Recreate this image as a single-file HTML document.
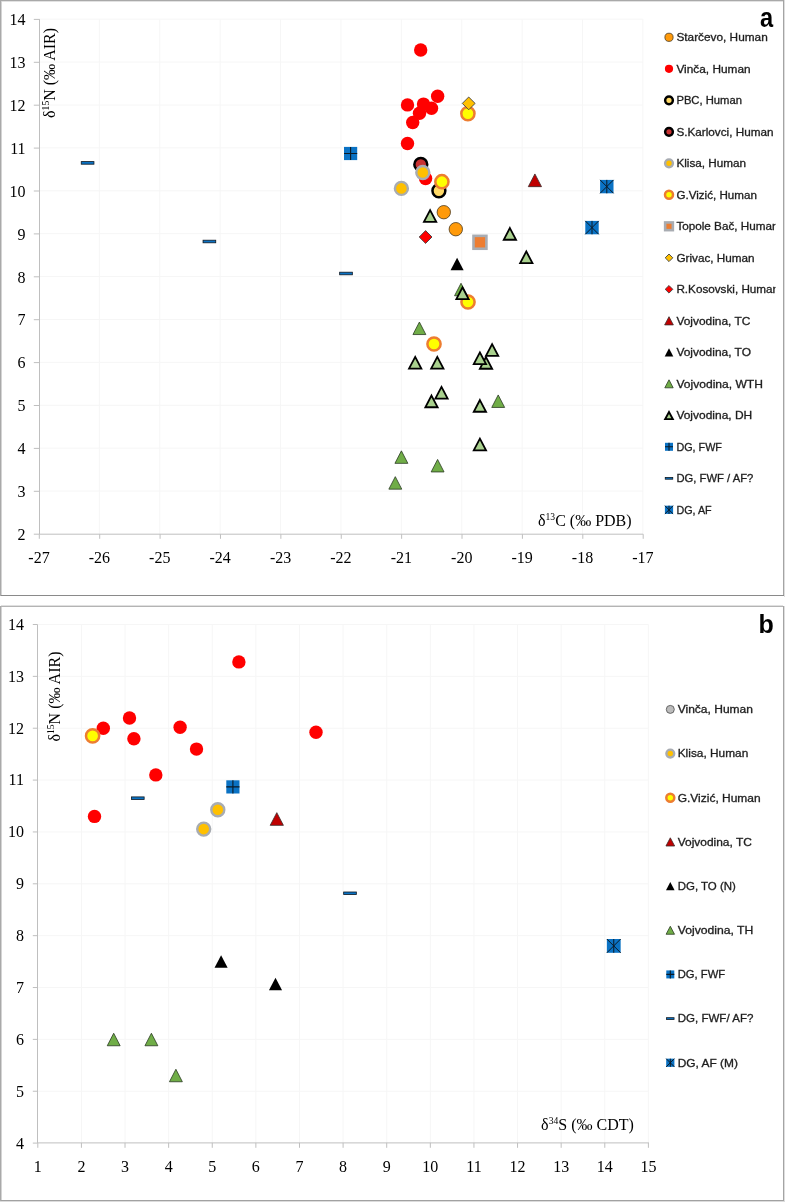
<!DOCTYPE html>
<html><head><meta charset="utf-8"><title>Isotope plots</title><style>html,body{margin:0;padding:0;background:#fff;}svg{display:block;will-change:transform;}</style></head><body>
<svg width="785" height="1202" viewBox="0 0 785 1202">
<rect width="785" height="1202" fill="#fff"/>
<rect x="0" y="0" width="784" height="1" fill="#a9a9a9"/><rect x="1" y="1" width="782" height="1" fill="#e2e2e2"/><rect x="0" y="0" width="1" height="596" fill="#a9a9a9"/><rect x="1" y="1" width="1" height="594" fill="#d4d4d4"/><rect x="783" y="0" width="1" height="596" fill="#a4a4a4"/><rect x="784" y="0" width="1" height="597" fill="#dedede"/><rect x="1" y="595" width="783" height="1" fill="#8a8a8a"/>
<line x1="99.39" y1="19.2" x2="99.39" y2="534.0" stroke="#f6f6f6" stroke-width="1"/>
<line x1="159.78" y1="19.2" x2="159.78" y2="534.0" stroke="#f6f6f6" stroke-width="1"/>
<line x1="220.17" y1="19.2" x2="220.17" y2="534.0" stroke="#f6f6f6" stroke-width="1"/>
<line x1="280.56" y1="19.2" x2="280.56" y2="534.0" stroke="#f6f6f6" stroke-width="1"/>
<line x1="340.95" y1="19.2" x2="340.95" y2="534.0" stroke="#f6f6f6" stroke-width="1"/>
<line x1="401.34" y1="19.2" x2="401.34" y2="534.0" stroke="#f6f6f6" stroke-width="1"/>
<line x1="461.73" y1="19.2" x2="461.73" y2="534.0" stroke="#f6f6f6" stroke-width="1"/>
<line x1="522.12" y1="19.2" x2="522.12" y2="534.0" stroke="#f6f6f6" stroke-width="1"/>
<line x1="582.51" y1="19.2" x2="582.51" y2="534.0" stroke="#f6f6f6" stroke-width="1"/>
<line x1="642.90" y1="19.2" x2="642.90" y2="534.0" stroke="#f6f6f6" stroke-width="1"/>
<line x1="39.0" y1="491.10" x2="642.9" y2="491.10" stroke="#f6f6f6" stroke-width="1"/>
<line x1="39.0" y1="448.20" x2="642.9" y2="448.20" stroke="#f6f6f6" stroke-width="1"/>
<line x1="39.0" y1="405.30" x2="642.9" y2="405.30" stroke="#f6f6f6" stroke-width="1"/>
<line x1="39.0" y1="362.40" x2="642.9" y2="362.40" stroke="#f6f6f6" stroke-width="1"/>
<line x1="39.0" y1="319.50" x2="642.9" y2="319.50" stroke="#f6f6f6" stroke-width="1"/>
<line x1="39.0" y1="276.60" x2="642.9" y2="276.60" stroke="#f6f6f6" stroke-width="1"/>
<line x1="39.0" y1="233.70" x2="642.9" y2="233.70" stroke="#f6f6f6" stroke-width="1"/>
<line x1="39.0" y1="190.80" x2="642.9" y2="190.80" stroke="#f6f6f6" stroke-width="1"/>
<line x1="39.0" y1="147.90" x2="642.9" y2="147.90" stroke="#f6f6f6" stroke-width="1"/>
<line x1="39.0" y1="105.00" x2="642.9" y2="105.00" stroke="#f6f6f6" stroke-width="1"/>
<line x1="39.0" y1="62.10" x2="642.9" y2="62.10" stroke="#f6f6f6" stroke-width="1"/>
<line x1="39.0" y1="19.20" x2="642.9" y2="19.20" stroke="#f6f6f6" stroke-width="1"/>
<path d="M39.5,19.2V534.2H643.2" fill="none" stroke="#bfbfbf" stroke-width="1"/>
<line x1="33.8" y1="534.20" x2="39.5" y2="534.20" stroke="#bfbfbf" stroke-width="1"/>
<line x1="33.8" y1="491.30" x2="39.5" y2="491.30" stroke="#bfbfbf" stroke-width="1"/>
<line x1="33.8" y1="448.40" x2="39.5" y2="448.40" stroke="#bfbfbf" stroke-width="1"/>
<line x1="33.8" y1="405.50" x2="39.5" y2="405.50" stroke="#bfbfbf" stroke-width="1"/>
<line x1="33.8" y1="362.60" x2="39.5" y2="362.60" stroke="#bfbfbf" stroke-width="1"/>
<line x1="33.8" y1="319.70" x2="39.5" y2="319.70" stroke="#bfbfbf" stroke-width="1"/>
<line x1="33.8" y1="276.80" x2="39.5" y2="276.80" stroke="#bfbfbf" stroke-width="1"/>
<line x1="33.8" y1="233.90" x2="39.5" y2="233.90" stroke="#bfbfbf" stroke-width="1"/>
<line x1="33.8" y1="191.00" x2="39.5" y2="191.00" stroke="#bfbfbf" stroke-width="1"/>
<line x1="33.8" y1="148.10" x2="39.5" y2="148.10" stroke="#bfbfbf" stroke-width="1"/>
<line x1="33.8" y1="105.20" x2="39.5" y2="105.20" stroke="#bfbfbf" stroke-width="1"/>
<line x1="33.8" y1="62.30" x2="39.5" y2="62.30" stroke="#bfbfbf" stroke-width="1"/>
<line x1="33.8" y1="19.40" x2="39.5" y2="19.40" stroke="#bfbfbf" stroke-width="1"/>
<line x1="39.30" y1="534.2" x2="39.30" y2="538.8" stroke="#bfbfbf" stroke-width="1"/>
<line x1="99.69" y1="534.2" x2="99.69" y2="538.8" stroke="#bfbfbf" stroke-width="1"/>
<line x1="160.08" y1="534.2" x2="160.08" y2="538.8" stroke="#bfbfbf" stroke-width="1"/>
<line x1="220.47" y1="534.2" x2="220.47" y2="538.8" stroke="#bfbfbf" stroke-width="1"/>
<line x1="280.86" y1="534.2" x2="280.86" y2="538.8" stroke="#bfbfbf" stroke-width="1"/>
<line x1="341.25" y1="534.2" x2="341.25" y2="538.8" stroke="#bfbfbf" stroke-width="1"/>
<line x1="401.64" y1="534.2" x2="401.64" y2="538.8" stroke="#bfbfbf" stroke-width="1"/>
<line x1="462.03" y1="534.2" x2="462.03" y2="538.8" stroke="#bfbfbf" stroke-width="1"/>
<line x1="522.42" y1="534.2" x2="522.42" y2="538.8" stroke="#bfbfbf" stroke-width="1"/>
<line x1="582.81" y1="534.2" x2="582.81" y2="538.8" stroke="#bfbfbf" stroke-width="1"/>
<line x1="643.20" y1="534.2" x2="643.20" y2="538.8" stroke="#bfbfbf" stroke-width="1"/>
<text x="25.60" y="539.90" font-family="'Liberation Serif', serif" font-size="16" text-anchor="end" fill="#000" >2</text>
<text x="25.60" y="497.00" font-family="'Liberation Serif', serif" font-size="16" text-anchor="end" fill="#000" >3</text>
<text x="25.60" y="454.10" font-family="'Liberation Serif', serif" font-size="16" text-anchor="end" fill="#000" >4</text>
<text x="25.60" y="411.20" font-family="'Liberation Serif', serif" font-size="16" text-anchor="end" fill="#000" >5</text>
<text x="25.60" y="368.30" font-family="'Liberation Serif', serif" font-size="16" text-anchor="end" fill="#000" >6</text>
<text x="25.60" y="325.40" font-family="'Liberation Serif', serif" font-size="16" text-anchor="end" fill="#000" >7</text>
<text x="25.60" y="282.50" font-family="'Liberation Serif', serif" font-size="16" text-anchor="end" fill="#000" >8</text>
<text x="25.60" y="239.60" font-family="'Liberation Serif', serif" font-size="16" text-anchor="end" fill="#000" >9</text>
<text x="25.60" y="196.70" font-family="'Liberation Serif', serif" font-size="16" text-anchor="end" fill="#000" >10</text>
<text x="25.60" y="153.80" font-family="'Liberation Serif', serif" font-size="16" text-anchor="end" fill="#000" >11</text>
<text x="25.60" y="110.90" font-family="'Liberation Serif', serif" font-size="16" text-anchor="end" fill="#000" >12</text>
<text x="25.60" y="68.00" font-family="'Liberation Serif', serif" font-size="16" text-anchor="end" fill="#000" >13</text>
<text x="25.60" y="25.10" font-family="'Liberation Serif', serif" font-size="16" text-anchor="end" fill="#000" >14</text>
<text x="39.00" y="563.00" font-family="'Liberation Serif', serif" font-size="16" text-anchor="middle" fill="#000" >-27</text>
<text x="99.39" y="563.00" font-family="'Liberation Serif', serif" font-size="16" text-anchor="middle" fill="#000" >-26</text>
<text x="159.78" y="563.00" font-family="'Liberation Serif', serif" font-size="16" text-anchor="middle" fill="#000" >-25</text>
<text x="220.17" y="563.00" font-family="'Liberation Serif', serif" font-size="16" text-anchor="middle" fill="#000" >-24</text>
<text x="280.56" y="563.00" font-family="'Liberation Serif', serif" font-size="16" text-anchor="middle" fill="#000" >-23</text>
<text x="340.95" y="563.00" font-family="'Liberation Serif', serif" font-size="16" text-anchor="middle" fill="#000" >-22</text>
<text x="401.34" y="563.00" font-family="'Liberation Serif', serif" font-size="16" text-anchor="middle" fill="#000" >-21</text>
<text x="461.73" y="563.00" font-family="'Liberation Serif', serif" font-size="16" text-anchor="middle" fill="#000" >-20</text>
<text x="522.12" y="563.00" font-family="'Liberation Serif', serif" font-size="16" text-anchor="middle" fill="#000" >-19</text>
<text x="582.51" y="563.00" font-family="'Liberation Serif', serif" font-size="16" text-anchor="middle" fill="#000" >-18</text>
<text x="642.90" y="563.00" font-family="'Liberation Serif', serif" font-size="16" text-anchor="middle" fill="#000" >-17</text>
<text x="631.6" y="525.5" font-family="'Liberation Serif', serif" font-size="16" text-anchor="end">&#948;<tspan font-size="9.6" dy="-5.6">13</tspan><tspan dy="5.6">C (&#8240; PDB)</tspan></text>
<text transform="translate(54.9,27.9) rotate(-90)" font-family="'Liberation Serif', serif" font-size="16" text-anchor="end">&#948;<tspan font-size="9.6" dy="-5.6">15</tspan><tspan dy="5.6">N (&#8240; AIR)</tspan></text>
<text x="0" y="0" transform="translate(773.2,26.9) scale(0.86,1)" font-family="'Liberation Sans', sans-serif" font-size="27.5" font-weight="bold" text-anchor="end">a</text>
<circle cx="443.80" cy="212.20" r="6.70" fill="#ff9a0a" stroke="#4a3a20" stroke-width="0.8"/>
<circle cx="455.80" cy="229.20" r="6.70" fill="#ff9a0a" stroke="#4a3a20" stroke-width="0.8"/>
<circle cx="420.70" cy="50.00" r="6.70" fill="#ff0000"/>
<circle cx="437.65" cy="96.30" r="6.70" fill="#ff0000"/>
<circle cx="407.50" cy="104.90" r="6.70" fill="#ff0000"/>
<circle cx="423.50" cy="104.10" r="6.70" fill="#ff0000"/>
<circle cx="431.50" cy="108.30" r="6.70" fill="#ff0000"/>
<circle cx="419.50" cy="113.30" r="6.70" fill="#ff0000"/>
<circle cx="412.70" cy="122.50" r="6.70" fill="#ff0000"/>
<circle cx="407.50" cy="143.50" r="6.70" fill="#ff0000"/>
<circle cx="425.60" cy="178.60" r="6.70" fill="#ff0000"/>
<circle cx="438.90" cy="190.80" r="6.45" fill="#ffd966" stroke="#000" stroke-width="2.5"/>
<circle cx="420.80" cy="164.40" r="6.45" fill="#c83232" stroke="#000" stroke-width="2.5"/>
<circle cx="422.80" cy="172.50" r="6.50" fill="#ffc000" stroke="#a8acb2" stroke-width="2.4"/>
<circle cx="401.40" cy="188.40" r="6.50" fill="#ffc000" stroke="#a8acb2" stroke-width="2.4"/>
<circle cx="467.90" cy="113.60" r="6.60" fill="#ffff00" stroke="#ed7d31" stroke-width="2.5"/>
<circle cx="441.90" cy="181.70" r="6.60" fill="#ffff00" stroke="#ed7d31" stroke-width="2.5"/>
<circle cx="468.00" cy="302.00" r="6.60" fill="#ffff00" stroke="#ed7d31" stroke-width="2.5"/>
<circle cx="434.00" cy="344.00" r="6.60" fill="#ffff00" stroke="#ed7d31" stroke-width="2.5"/>
<rect x="473.50" y="235.85" width="12.90" height="12.90" fill="#ed7d31" stroke="#a8acb2" stroke-width="2.6"/>
<polygon points="468.70,97.00 475.10,103.40 468.70,109.80 462.30,103.40" fill="#ffc000" stroke="#404040" stroke-width="0.9"/>
<polygon points="425.60,230.60 432.00,237.00 425.60,243.40 419.20,237.00" fill="#ff0000" stroke="#404040" stroke-width="0.9"/>
<polygon points="534.90,173.95 541.50,186.65 528.30,186.65" fill="#c00000" stroke="#3a2a2a" stroke-width="0.8" stroke-linejoin="miter"/>
<polygon points="457.10,257.65 463.65,270.35 450.55,270.35" fill="#000000"/>
<polygon points="461.00,283.25 467.45,295.75 454.55,295.75" fill="#70ad47" stroke="#2a3a22" stroke-width="0.8" stroke-linejoin="miter"/>
<polygon points="419.40,322.05 425.85,334.55 412.95,334.55" fill="#70ad47" stroke="#2a3a22" stroke-width="0.8" stroke-linejoin="miter"/>
<polygon points="498.20,394.95 504.65,407.45 491.75,407.45" fill="#70ad47" stroke="#2a3a22" stroke-width="0.8" stroke-linejoin="miter"/>
<polygon points="401.40,450.85 407.85,463.35 394.95,463.35" fill="#70ad47" stroke="#2a3a22" stroke-width="0.8" stroke-linejoin="miter"/>
<polygon points="437.60,459.45 444.05,471.95 431.15,471.95" fill="#70ad47" stroke="#2a3a22" stroke-width="0.8" stroke-linejoin="miter"/>
<polygon points="395.30,476.65 401.75,489.15 388.85,489.15" fill="#70ad47" stroke="#2a3a22" stroke-width="0.8" stroke-linejoin="miter"/>
<polygon points="430.10,210.15 436.25,221.85 423.95,221.85" fill="#a9d18e" stroke="#000" stroke-width="1.8" stroke-linejoin="miter"/>
<polygon points="509.90,228.05 516.05,239.75 503.75,239.75" fill="#a9d18e" stroke="#000" stroke-width="1.8" stroke-linejoin="miter"/>
<polygon points="526.30,251.45 532.45,263.15 520.15,263.15" fill="#a9d18e" stroke="#000" stroke-width="1.8" stroke-linejoin="miter"/>
<polygon points="462.50,287.45 468.65,299.15 456.35,299.15" fill="#a9d18e" stroke="#000" stroke-width="1.8" stroke-linejoin="miter"/>
<polygon points="415.20,356.95 421.35,368.65 409.05,368.65" fill="#a9d18e" stroke="#000" stroke-width="1.8" stroke-linejoin="miter"/>
<polygon points="437.30,356.95 443.45,368.65 431.15,368.65" fill="#a9d18e" stroke="#000" stroke-width="1.8" stroke-linejoin="miter"/>
<polygon points="441.50,386.85 447.65,398.55 435.35,398.55" fill="#a9d18e" stroke="#000" stroke-width="1.8" stroke-linejoin="miter"/>
<polygon points="431.50,395.55 437.65,407.25 425.35,407.25" fill="#a9d18e" stroke="#000" stroke-width="1.8" stroke-linejoin="miter"/>
<polygon points="486.00,357.05 492.15,368.75 479.85,368.75" fill="#a9d18e" stroke="#000" stroke-width="1.8" stroke-linejoin="miter"/>
<polygon points="479.90,352.45 486.05,364.15 473.75,364.15" fill="#a9d18e" stroke="#000" stroke-width="1.8" stroke-linejoin="miter"/>
<polygon points="492.10,344.15 498.25,355.85 485.95,355.85" fill="#a9d18e" stroke="#000" stroke-width="1.8" stroke-linejoin="miter"/>
<polygon points="479.90,400.05 486.05,411.75 473.75,411.75" fill="#a9d18e" stroke="#000" stroke-width="1.8" stroke-linejoin="miter"/>
<polygon points="479.90,438.65 486.05,450.35 473.75,450.35" fill="#a9d18e" stroke="#000" stroke-width="1.8" stroke-linejoin="miter"/>
<rect x="344.00" y="146.90" width="13.20" height="13.20" fill="#0a72c4"/><path d="M350.60,146.90V160.10M344.00,153.50H357.20" stroke="#0b1a26" stroke-width="1.1"/>
<rect x="81.25" y="161.60" width="12.70" height="2.60" fill="#0a72c4" stroke="#101820" stroke-width="0.8"/>
<rect x="203.05" y="240.20" width="12.70" height="2.60" fill="#0a72c4" stroke="#101820" stroke-width="0.8"/>
<rect x="339.65" y="272.20" width="12.70" height="2.60" fill="#0a72c4" stroke="#101820" stroke-width="0.8"/>
<rect x="600.10" y="179.90" width="13.40" height="13.40" fill="#0a72c4"/><path d="M600.10,179.90L613.50,193.30M613.50,179.90L600.10,193.30M606.80,179.90V193.30" stroke="#0b1a26" stroke-width="1.0"/>
<rect x="585.30" y="220.90" width="13.40" height="13.40" fill="#0a72c4"/><path d="M585.30,220.90L598.70,234.30M598.70,220.90L585.30,234.30M592.00,220.90V234.30" stroke="#0b1a26" stroke-width="1.0"/>
<defs><clipPath id="clA"><rect x="600" y="0" width="175.5" height="595"/></clipPath></defs>
<g clip-path="url(#clA)">
<circle cx="669.00" cy="37.30" r="4.10" fill="#ff9a0a" stroke="#4a3a20" stroke-width="0.8"/>
<text x="0" y="41.15" font-family="'Liberation Sans', sans-serif" font-size="10.6" fill="#1e1e1e" stroke="#1e1e1e" stroke-width="0.3" transform="translate(676.4,0) scale(1.1173,1)">Starčevo, Human</text>
<circle cx="669.00" cy="68.80" r="4.10" fill="#ff0000"/>
<text x="0" y="72.65" font-family="'Liberation Sans', sans-serif" font-size="10.6" fill="#1e1e1e" stroke="#1e1e1e" stroke-width="0.3" transform="translate(676.4,0) scale(1.1183,1)">Vinča, Human</text>
<circle cx="669.00" cy="100.30" r="3.85" fill="#ffd966" stroke="#000" stroke-width="2.5"/>
<text x="0" y="104.15" font-family="'Liberation Sans', sans-serif" font-size="10.6" fill="#1e1e1e" stroke="#1e1e1e" stroke-width="0.3" transform="translate(676.4,0) scale(1.0606,1)">PBC, Human</text>
<circle cx="669.00" cy="131.80" r="3.85" fill="#c83232" stroke="#000" stroke-width="2.5"/>
<text x="0" y="135.65" font-family="'Liberation Sans', sans-serif" font-size="10.6" fill="#1e1e1e" stroke="#1e1e1e" stroke-width="0.3" transform="translate(676.4,0) scale(1.1069,1)">S.Karlovci, Human</text>
<circle cx="669.00" cy="163.30" r="3.90" fill="#ffc000" stroke="#a8acb2" stroke-width="2.4"/>
<text x="0" y="167.15" font-family="'Liberation Sans', sans-serif" font-size="10.6" fill="#1e1e1e" stroke="#1e1e1e" stroke-width="0.3" transform="translate(676.4,0) scale(1.1065,1)">Klisa, Human</text>
<circle cx="669.00" cy="194.80" r="4.00" fill="#ffff00" stroke="#ed7d31" stroke-width="2.5"/>
<text x="0" y="198.65" font-family="'Liberation Sans', sans-serif" font-size="10.6" fill="#1e1e1e" stroke="#1e1e1e" stroke-width="0.3" transform="translate(676.4,0) scale(1.0972,1)">G.Vizić, Human</text>
<rect x="665.15" y="222.45" width="7.70" height="7.70" fill="#ed7d31" stroke="#a8acb2" stroke-width="2.6"/>
<text x="0" y="230.15" font-family="'Liberation Sans', sans-serif" font-size="10.6" fill="#1e1e1e" stroke="#1e1e1e" stroke-width="0.3" transform="translate(676.4,0) scale(1.105,1)">Topole Bač, Human</text>
<polygon points="669.00,254.00 672.80,257.80 669.00,261.60 665.20,257.80" fill="#ffc000" stroke="#404040" stroke-width="0.9"/>
<text x="0" y="261.65" font-family="'Liberation Sans', sans-serif" font-size="10.6" fill="#1e1e1e" stroke="#1e1e1e" stroke-width="0.3" transform="translate(676.4,0) scale(1.1071,1)">Grivac, Human</text>
<polygon points="669.00,285.50 672.80,289.30 669.00,293.10 665.20,289.30" fill="#ff0000" stroke="#404040" stroke-width="0.9"/>
<text x="0" y="293.15" font-family="'Liberation Sans', sans-serif" font-size="10.6" fill="#1e1e1e" stroke="#1e1e1e" stroke-width="0.3" transform="translate(676.4,0) scale(1.105,1)">R.Kosovski, Human</text>
<polygon points="669.00,316.70 673.35,324.90 664.65,324.90" fill="#c00000" stroke="#3a2a2a" stroke-width="0.8" stroke-linejoin="miter"/>
<text x="0" y="324.65" font-family="'Liberation Sans', sans-serif" font-size="10.6" fill="#1e1e1e" stroke="#1e1e1e" stroke-width="0.3" transform="translate(676.4,0) scale(1.1263,1)">Vojvodina, TC</text>
<polygon points="669.00,348.20 673.30,356.40 664.70,356.40" fill="#000000"/>
<text x="0" y="356.15" font-family="'Liberation Sans', sans-serif" font-size="10.6" fill="#1e1e1e" stroke="#1e1e1e" stroke-width="0.3" transform="translate(676.4,0) scale(1.1275,1)">Vojvodina, TO</text>
<polygon points="669.00,379.80 673.20,387.80 664.80,387.80" fill="#70ad47" stroke="#2a3a22" stroke-width="0.8" stroke-linejoin="miter"/>
<text x="0" y="387.65" font-family="'Liberation Sans', sans-serif" font-size="10.6" fill="#1e1e1e" stroke="#1e1e1e" stroke-width="0.3" transform="translate(676.4,0) scale(1.1389,1)">Vojvodina, WTH</text>
<polygon points="669.00,412.00 672.90,419.20 665.10,419.20" fill="#a9d18e" stroke="#000" stroke-width="1.8" stroke-linejoin="miter"/>
<text x="0" y="419.15" font-family="'Liberation Sans', sans-serif" font-size="10.6" fill="#1e1e1e" stroke="#1e1e1e" stroke-width="0.3" transform="translate(676.4,0) scale(1.1301,1)">Vojvodina, DH</text>
<rect x="665.00" y="442.80" width="8.00" height="8.00" fill="#0a72c4"/><path d="M669.00,442.80V450.80M665.00,446.80H673.00" stroke="#0b1a26" stroke-width="1.1"/>
<text x="0" y="450.65" font-family="'Liberation Sans', sans-serif" font-size="10.6" fill="#1e1e1e" stroke="#1e1e1e" stroke-width="0.3" transform="translate(676.4,0) scale(1.0192,1)">DG, FWF</text>
<rect x="665.25" y="477.40" width="7.50" height="1.80" fill="#0a72c4" stroke="#101820" stroke-width="0.8"/>
<text x="0" y="482.15" font-family="'Liberation Sans', sans-serif" font-size="10.6" fill="#1e1e1e" stroke="#1e1e1e" stroke-width="0.3" transform="translate(676.4,0) scale(1.0624,1)">DG, FWF / AF?</text>
<rect x="664.90" y="505.70" width="8.20" height="8.20" fill="#0a72c4"/><path d="M664.90,505.70L673.10,513.90M673.10,505.70L664.90,513.90M669.00,505.70V513.90" stroke="#0b1a26" stroke-width="1.0"/>
<text x="0" y="513.65" font-family="'Liberation Sans', sans-serif" font-size="10.6" fill="#1e1e1e" stroke="#1e1e1e" stroke-width="0.3" transform="translate(676.4,0) scale(1.0161,1)">DG, AF</text>
</g>
<rect x="1" y="605" width="782" height="1" fill="#e0e0e0"/><rect x="0" y="606" width="784" height="1" fill="#b4b4b4"/><rect x="0" y="606" width="1" height="595" fill="#a9a9a9"/><rect x="1" y="607" width="1" height="593" fill="#d4d4d4"/><rect x="783" y="606" width="1" height="595" fill="#a4a4a4"/><rect x="784" y="606" width="1" height="596" fill="#dedede"/><rect x="1" y="1200" width="783" height="1" fill="#a2a2a2"/><rect x="0" y="1201" width="785" height="1" fill="#dcdcdc"/>
<line x1="81.41" y1="624.5" x2="81.41" y2="1143.1" stroke="#f6f6f6" stroke-width="1"/>
<line x1="125.03" y1="624.5" x2="125.03" y2="1143.1" stroke="#f6f6f6" stroke-width="1"/>
<line x1="168.64" y1="624.5" x2="168.64" y2="1143.1" stroke="#f6f6f6" stroke-width="1"/>
<line x1="212.26" y1="624.5" x2="212.26" y2="1143.1" stroke="#f6f6f6" stroke-width="1"/>
<line x1="255.87" y1="624.5" x2="255.87" y2="1143.1" stroke="#f6f6f6" stroke-width="1"/>
<line x1="299.49" y1="624.5" x2="299.49" y2="1143.1" stroke="#f6f6f6" stroke-width="1"/>
<line x1="343.10" y1="624.5" x2="343.10" y2="1143.1" stroke="#f6f6f6" stroke-width="1"/>
<line x1="386.71" y1="624.5" x2="386.71" y2="1143.1" stroke="#f6f6f6" stroke-width="1"/>
<line x1="430.33" y1="624.5" x2="430.33" y2="1143.1" stroke="#f6f6f6" stroke-width="1"/>
<line x1="473.94" y1="624.5" x2="473.94" y2="1143.1" stroke="#f6f6f6" stroke-width="1"/>
<line x1="517.56" y1="624.5" x2="517.56" y2="1143.1" stroke="#f6f6f6" stroke-width="1"/>
<line x1="561.17" y1="624.5" x2="561.17" y2="1143.1" stroke="#f6f6f6" stroke-width="1"/>
<line x1="604.79" y1="624.5" x2="604.79" y2="1143.1" stroke="#f6f6f6" stroke-width="1"/>
<line x1="648.40" y1="624.5" x2="648.40" y2="1143.1" stroke="#f6f6f6" stroke-width="1"/>
<line x1="37.8" y1="1091.24" x2="648.4" y2="1091.24" stroke="#f6f6f6" stroke-width="1"/>
<line x1="37.8" y1="1039.38" x2="648.4" y2="1039.38" stroke="#f6f6f6" stroke-width="1"/>
<line x1="37.8" y1="987.52" x2="648.4" y2="987.52" stroke="#f6f6f6" stroke-width="1"/>
<line x1="37.8" y1="935.66" x2="648.4" y2="935.66" stroke="#f6f6f6" stroke-width="1"/>
<line x1="37.8" y1="883.80" x2="648.4" y2="883.80" stroke="#f6f6f6" stroke-width="1"/>
<line x1="37.8" y1="831.94" x2="648.4" y2="831.94" stroke="#f6f6f6" stroke-width="1"/>
<line x1="37.8" y1="780.08" x2="648.4" y2="780.08" stroke="#f6f6f6" stroke-width="1"/>
<line x1="37.8" y1="728.22" x2="648.4" y2="728.22" stroke="#f6f6f6" stroke-width="1"/>
<line x1="37.8" y1="676.36" x2="648.4" y2="676.36" stroke="#f6f6f6" stroke-width="1"/>
<line x1="37.8" y1="624.50" x2="648.4" y2="624.50" stroke="#f6f6f6" stroke-width="1"/>
<path d="M37.5,624.5V1142.9H648.9" fill="none" stroke="#bfbfbf" stroke-width="1"/>
<line x1="32.8" y1="1143.10" x2="37.5" y2="1143.10" stroke="#bfbfbf" stroke-width="1"/>
<line x1="32.8" y1="1091.24" x2="37.5" y2="1091.24" stroke="#bfbfbf" stroke-width="1"/>
<line x1="32.8" y1="1039.38" x2="37.5" y2="1039.38" stroke="#bfbfbf" stroke-width="1"/>
<line x1="32.8" y1="987.52" x2="37.5" y2="987.52" stroke="#bfbfbf" stroke-width="1"/>
<line x1="32.8" y1="935.66" x2="37.5" y2="935.66" stroke="#bfbfbf" stroke-width="1"/>
<line x1="32.8" y1="883.80" x2="37.5" y2="883.80" stroke="#bfbfbf" stroke-width="1"/>
<line x1="32.8" y1="831.94" x2="37.5" y2="831.94" stroke="#bfbfbf" stroke-width="1"/>
<line x1="32.8" y1="780.08" x2="37.5" y2="780.08" stroke="#bfbfbf" stroke-width="1"/>
<line x1="32.8" y1="728.22" x2="37.5" y2="728.22" stroke="#bfbfbf" stroke-width="1"/>
<line x1="32.8" y1="676.36" x2="37.5" y2="676.36" stroke="#bfbfbf" stroke-width="1"/>
<line x1="32.8" y1="624.50" x2="37.5" y2="624.50" stroke="#bfbfbf" stroke-width="1"/>
<line x1="37.80" y1="1142.9" x2="37.80" y2="1147.8" stroke="#bfbfbf" stroke-width="1"/>
<line x1="81.41" y1="1142.9" x2="81.41" y2="1147.8" stroke="#bfbfbf" stroke-width="1"/>
<line x1="125.03" y1="1142.9" x2="125.03" y2="1147.8" stroke="#bfbfbf" stroke-width="1"/>
<line x1="168.64" y1="1142.9" x2="168.64" y2="1147.8" stroke="#bfbfbf" stroke-width="1"/>
<line x1="212.26" y1="1142.9" x2="212.26" y2="1147.8" stroke="#bfbfbf" stroke-width="1"/>
<line x1="255.87" y1="1142.9" x2="255.87" y2="1147.8" stroke="#bfbfbf" stroke-width="1"/>
<line x1="299.49" y1="1142.9" x2="299.49" y2="1147.8" stroke="#bfbfbf" stroke-width="1"/>
<line x1="343.10" y1="1142.9" x2="343.10" y2="1147.8" stroke="#bfbfbf" stroke-width="1"/>
<line x1="386.71" y1="1142.9" x2="386.71" y2="1147.8" stroke="#bfbfbf" stroke-width="1"/>
<line x1="430.33" y1="1142.9" x2="430.33" y2="1147.8" stroke="#bfbfbf" stroke-width="1"/>
<line x1="473.94" y1="1142.9" x2="473.94" y2="1147.8" stroke="#bfbfbf" stroke-width="1"/>
<line x1="517.56" y1="1142.9" x2="517.56" y2="1147.8" stroke="#bfbfbf" stroke-width="1"/>
<line x1="561.17" y1="1142.9" x2="561.17" y2="1147.8" stroke="#bfbfbf" stroke-width="1"/>
<line x1="604.79" y1="1142.9" x2="604.79" y2="1147.8" stroke="#bfbfbf" stroke-width="1"/>
<line x1="648.40" y1="1142.9" x2="648.40" y2="1147.8" stroke="#bfbfbf" stroke-width="1"/>
<text x="24.00" y="1148.50" font-family="'Liberation Serif', serif" font-size="16" text-anchor="end" fill="#000" >4</text>
<text x="24.00" y="1096.64" font-family="'Liberation Serif', serif" font-size="16" text-anchor="end" fill="#000" >5</text>
<text x="24.00" y="1044.78" font-family="'Liberation Serif', serif" font-size="16" text-anchor="end" fill="#000" >6</text>
<text x="24.00" y="992.92" font-family="'Liberation Serif', serif" font-size="16" text-anchor="end" fill="#000" >7</text>
<text x="24.00" y="941.06" font-family="'Liberation Serif', serif" font-size="16" text-anchor="end" fill="#000" >8</text>
<text x="24.00" y="889.20" font-family="'Liberation Serif', serif" font-size="16" text-anchor="end" fill="#000" >9</text>
<text x="24.00" y="837.34" font-family="'Liberation Serif', serif" font-size="16" text-anchor="end" fill="#000" >10</text>
<text x="24.00" y="785.48" font-family="'Liberation Serif', serif" font-size="16" text-anchor="end" fill="#000" >11</text>
<text x="24.00" y="733.62" font-family="'Liberation Serif', serif" font-size="16" text-anchor="end" fill="#000" >12</text>
<text x="24.00" y="681.76" font-family="'Liberation Serif', serif" font-size="16" text-anchor="end" fill="#000" >13</text>
<text x="24.00" y="629.90" font-family="'Liberation Serif', serif" font-size="16" text-anchor="end" fill="#000" >14</text>
<text x="37.80" y="1172.20" font-family="'Liberation Serif', serif" font-size="16" text-anchor="middle" fill="#000" >1</text>
<text x="81.41" y="1172.20" font-family="'Liberation Serif', serif" font-size="16" text-anchor="middle" fill="#000" >2</text>
<text x="125.03" y="1172.20" font-family="'Liberation Serif', serif" font-size="16" text-anchor="middle" fill="#000" >3</text>
<text x="168.64" y="1172.20" font-family="'Liberation Serif', serif" font-size="16" text-anchor="middle" fill="#000" >4</text>
<text x="212.26" y="1172.20" font-family="'Liberation Serif', serif" font-size="16" text-anchor="middle" fill="#000" >5</text>
<text x="255.87" y="1172.20" font-family="'Liberation Serif', serif" font-size="16" text-anchor="middle" fill="#000" >6</text>
<text x="299.49" y="1172.20" font-family="'Liberation Serif', serif" font-size="16" text-anchor="middle" fill="#000" >7</text>
<text x="343.10" y="1172.20" font-family="'Liberation Serif', serif" font-size="16" text-anchor="middle" fill="#000" >8</text>
<text x="386.71" y="1172.20" font-family="'Liberation Serif', serif" font-size="16" text-anchor="middle" fill="#000" >9</text>
<text x="430.33" y="1172.20" font-family="'Liberation Serif', serif" font-size="16" text-anchor="middle" fill="#000" >10</text>
<text x="473.94" y="1172.20" font-family="'Liberation Serif', serif" font-size="16" text-anchor="middle" fill="#000" >11</text>
<text x="517.56" y="1172.20" font-family="'Liberation Serif', serif" font-size="16" text-anchor="middle" fill="#000" >12</text>
<text x="561.17" y="1172.20" font-family="'Liberation Serif', serif" font-size="16" text-anchor="middle" fill="#000" >13</text>
<text x="604.79" y="1172.20" font-family="'Liberation Serif', serif" font-size="16" text-anchor="middle" fill="#000" >14</text>
<text x="648.40" y="1172.20" font-family="'Liberation Serif', serif" font-size="16" text-anchor="middle" fill="#000" >15</text>
<text x="633.8" y="1129.6" font-family="'Liberation Serif', serif" font-size="16" text-anchor="end">&#948;<tspan font-size="9.6" dy="-5.6">34</tspan><tspan dy="5.6">S (&#8240; CDT)</tspan></text>
<text transform="translate(60.0,651.5) rotate(-90)" font-family="'Liberation Serif', serif" font-size="16" text-anchor="end">&#948;<tspan font-size="9.6" dy="-5.6">15</tspan><tspan dy="5.6">N (&#8240; AIR)</tspan></text>
<text x="773.8" y="633.0" font-family="'Liberation Sans', sans-serif" font-size="25" font-weight="bold" text-anchor="end">b</text>
<circle cx="103.30" cy="728.30" r="6.70" fill="#ff0000"/>
<circle cx="129.50" cy="718.00" r="6.70" fill="#ff0000"/>
<circle cx="133.90" cy="738.70" r="6.70" fill="#ff0000"/>
<circle cx="180.10" cy="727.30" r="6.70" fill="#ff0000"/>
<circle cx="155.80" cy="774.90" r="6.70" fill="#ff0000"/>
<circle cx="94.50" cy="816.40" r="6.70" fill="#ff0000"/>
<circle cx="238.90" cy="661.90" r="6.70" fill="#ff0000"/>
<circle cx="196.50" cy="749.10" r="6.70" fill="#ff0000"/>
<circle cx="316.00" cy="732.20" r="6.70" fill="#ff0000"/>
<circle cx="217.80" cy="809.80" r="6.50" fill="#ffc000" stroke="#a8acb2" stroke-width="2.4"/>
<circle cx="203.70" cy="829.10" r="6.50" fill="#ffc000" stroke="#a8acb2" stroke-width="2.4"/>
<circle cx="92.60" cy="735.90" r="6.60" fill="#ffff00" stroke="#ed7d31" stroke-width="2.5"/>
<polygon points="276.80,812.65 283.40,825.35 270.20,825.35" fill="#c00000" stroke="#3a2a2a" stroke-width="0.8" stroke-linejoin="miter"/>
<polygon points="221.10,955.15 227.65,967.85 214.55,967.85" fill="#000000"/>
<polygon points="275.50,977.65 282.05,990.35 268.95,990.35" fill="#000000"/>
<polygon points="113.70,1033.25 120.15,1045.75 107.25,1045.75" fill="#70ad47" stroke="#2a3a22" stroke-width="0.8" stroke-linejoin="miter"/>
<polygon points="151.40,1033.25 157.85,1045.75 144.95,1045.75" fill="#70ad47" stroke="#2a3a22" stroke-width="0.8" stroke-linejoin="miter"/>
<polygon points="175.90,1069.25 182.35,1081.75 169.45,1081.75" fill="#70ad47" stroke="#2a3a22" stroke-width="0.8" stroke-linejoin="miter"/>
<rect x="226.30" y="780.30" width="13.20" height="13.20" fill="#0a72c4"/><path d="M232.90,780.30V793.50M226.30,786.90H239.50" stroke="#0b1a26" stroke-width="1.1"/>
<rect x="131.45" y="796.90" width="12.70" height="2.60" fill="#0a72c4" stroke="#101820" stroke-width="0.8"/>
<rect x="343.65" y="892.00" width="12.70" height="2.60" fill="#0a72c4" stroke="#101820" stroke-width="0.8"/>
<rect x="606.85" y="939.00" width="13.80" height="13.80" fill="#0a72c4"/><path d="M606.85,939.00L620.65,952.80M620.65,939.00L606.85,952.80M613.75,939.00V952.80" stroke="#0b1a26" stroke-width="1.0"/>
<circle cx="670.30" cy="709.40" r="4.00" fill="#bcbcbc" stroke="#5a5a5a" stroke-width="0.9"/>
<text x="0" y="713.25" font-family="'Liberation Sans', sans-serif" font-size="10.6" fill="#1e1e1e" stroke="#1e1e1e" stroke-width="0.3" transform="translate(677.7,0) scale(1.1351,1)">Vinča, Human</text>
<circle cx="670.30" cy="753.57" r="3.90" fill="#ffc000" stroke="#a8acb2" stroke-width="2.4"/>
<text x="0" y="757.42" font-family="'Liberation Sans', sans-serif" font-size="10.6" fill="#1e1e1e" stroke="#1e1e1e" stroke-width="0.3" transform="translate(677.7,0) scale(1.1194,1)">Klisa, Human</text>
<circle cx="670.30" cy="797.74" r="4.00" fill="#ffff00" stroke="#ed7d31" stroke-width="2.5"/>
<text x="0" y="801.59" font-family="'Liberation Sans', sans-serif" font-size="10.6" fill="#1e1e1e" stroke="#1e1e1e" stroke-width="0.3" transform="translate(677.7,0) scale(1.1306,1)">G.Vizić, Human</text>
<polygon points="670.30,837.81 674.65,846.01 665.95,846.01" fill="#c00000" stroke="#3a2a2a" stroke-width="0.8" stroke-linejoin="miter"/>
<text x="0" y="845.76" font-family="'Liberation Sans', sans-serif" font-size="10.6" fill="#1e1e1e" stroke="#1e1e1e" stroke-width="0.3" transform="translate(677.7,0) scale(1.1275,1)">Vojvodina, TC</text>
<polygon points="670.30,881.98 674.60,890.18 666.00,890.18" fill="#000000"/>
<text x="0" y="889.93" font-family="'Liberation Sans', sans-serif" font-size="10.6" fill="#1e1e1e" stroke="#1e1e1e" stroke-width="0.3" transform="translate(677.7,0) scale(1.0829,1)">DG, TO (N)</text>
<polygon points="670.30,926.25 674.50,934.25 666.10,934.25" fill="#70ad47" stroke="#2a3a22" stroke-width="0.8" stroke-linejoin="miter"/>
<text x="0" y="934.10" font-family="'Liberation Sans', sans-serif" font-size="10.6" fill="#1e1e1e" stroke="#1e1e1e" stroke-width="0.3" transform="translate(677.7,0) scale(1.1511,1)">Vojvodina, TH</text>
<rect x="666.30" y="970.42" width="8.00" height="8.00" fill="#0a72c4"/><path d="M670.30,970.42V978.42M666.30,974.42H674.30" stroke="#0b1a26" stroke-width="1.1"/>
<text x="0" y="978.27" font-family="'Liberation Sans', sans-serif" font-size="10.6" fill="#1e1e1e" stroke="#1e1e1e" stroke-width="0.3" transform="translate(677.7,0) scale(1.061,1)">DG, FWF</text>
<rect x="666.55" y="1017.69" width="7.50" height="1.80" fill="#0a72c4" stroke="#101820" stroke-width="0.8"/>
<text x="0" y="1022.44" font-family="'Liberation Sans', sans-serif" font-size="10.6" fill="#1e1e1e" stroke="#1e1e1e" stroke-width="0.3" transform="translate(677.7,0) scale(1.0897,1)">DG, FWF/ AF?</text>
<rect x="666.20" y="1058.66" width="8.20" height="8.20" fill="#0a72c4"/><path d="M666.20,1058.66L674.40,1066.86M674.40,1058.66L666.20,1066.86M670.30,1058.66V1066.86" stroke="#0b1a26" stroke-width="1.0"/>
<text x="0" y="1066.61" font-family="'Liberation Sans', sans-serif" font-size="10.6" fill="#1e1e1e" stroke="#1e1e1e" stroke-width="0.3" transform="translate(677.7,0) scale(1.1251,1)">DG, AF (M)</text>
</svg>
</body></html>
